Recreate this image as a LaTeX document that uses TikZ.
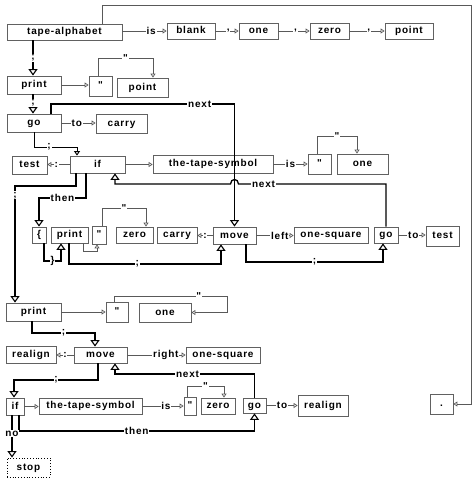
\documentclass[tikz,border=0pt]{standalone}
\usepackage{fontspec}
\newfontfamily\dfont{Liberation Sans}[LetterSpace=8]
\usetikzlibrary{arrows.meta}
\definecolor{bx}{gray}{0.38}
\definecolor{rl}{gray}{0.35}
\newcommand\mybox[7][]{\node[box,#1,minimum width=#5pt,minimum height=#6pt] (#2) at (#3,#4) {#7};}
\tikzset{
  dfnt/.style={font=\dfont\bfseries\fontsize{10}{11}\selectfont},
  box/.style={draw=bx, line width=0.8pt, inner sep=0pt, dfnt, text height=7pt, text depth=2pt},
  lab/.style={fill=white, inner sep=0.8pt, dfnt},
  rel/.style={draw=rl, line width=0.7pt, -{Triangle[open, length=4pt, width=5pt]}},
  flow/.style={draw=black, line width=1.3pt, -{Triangle[open, length=6.5pt, width=9pt, line width=1.1pt]}},
  seqln/.style={draw=black, line width=0.9pt, -{Triangle[open, length=4.5pt, width=6pt]}}
}
\begin{document}
\begin{tikzpicture}[x=1pt,y=-1pt]
\useasboundingbox (0,0) rectangle (474,479);
% row 1
\mybox{ta}{64.5}{32}{115}{16}{tape-alphabet}
\mybox{blank}{191}{31}{48}{16}{blank}
\mybox{one1}{258.5}{31}{39}{16}{one}
\mybox{zero1}{329.5}{31}{39}{16}{zero}
\mybox{point1}{409}{31}{48}{16}{point}
% row 2
\mybox{print1}{34}{85}{54}{18}{print}
\mybox{q1}{100.5}{86}{23}{20}{"}
\mybox{point2}{142.5}{87.5}{51}{19}{point}
% row 3
\mybox{go1}{34}{123}{54}{18}{go}
\mybox{carry1}{121.5}{123.5}{51}{19}{carry}
% row 4
\mybox{test1}{29.5}{165}{35}{18}{test}
\mybox{if1}{97.5}{164.5}{55}{17}{if}
\mybox{tts1}{213}{164}{120}{18}{the-tape-symbol}
\mybox{q2}{319.5}{164}{23}{20}{"}
\mybox{one2}{362.5}{164}{51}{20}{one}
% row 5
\mybox{brace}{39}{235}{14}{16}{\{}
\mybox{print2}{69.5}{235}{37}{16}{print}
\mybox{q3}{99}{235}{14}{18}{"}
\mybox{zero2}{134.5}{235}{37}{16}{zero}
\mybox{carry2}{177}{235}{40}{16}{carry}
\mybox{move1}{234.5}{235.5}{43}{17}{move}
\mybox{os1}{331}{235}{74}{16}{one-square}
\mybox{go2}{386}{235}{24}{16}{go}
\mybox{test2}{442.5}{236}{33}{20}{test}
% row 6
\mybox{print3}{33.5}{312}{55}{18}{print}
\mybox{q4}{117}{312}{22}{20}{"}
\mybox{one3}{165}{312.5}{52}{19}{one}
% row 7
\mybox{realign1}{31}{354.5}{50}{17}{realign}
\mybox{move2}{100.5}{355}{53}{16}{move}
\mybox{os2}{223}{355}{74}{16}{one-square}
% row 8
\mybox{if2}{15}{406.5}{18}{17}{if}
\mybox{tts2}{90.5}{406}{103}{16}{the-tape-symbol}
\mybox{q5}{190}{406}{12}{18}{"}
\mybox{zero3}{218}{406}{34}{16}{zero}
\mybox{go3}{254.5}{405.5}{23}{15}{go}
\mybox{realign2}{323}{405.5}{50}{21}{realign}
\mybox{dot}{441.5}{404}{23}{20}{.}
\mybox[draw=black,dotted,line width=0.9pt]{stop}{28.5}{467.5}{43}{19}{stop}

% ---------- connectors
% row 1
\draw[rel] (ta.east |- blank.west) -- node[lab,pos=0.65]{is} (blank.west);
\draw[rel] (blank.east) -- node[lab,pos=0.55]{,} (one1.west);
\draw[rel] (one1.east) -- node[lab,pos=0.55]{,} (zero1.west);
\draw[rel] (zero1.east) -- node[lab,pos=0.55]{,} (point1.west);
\draw[rel] (ta.north -| 102,0) -- (102,5) -- (471,5) -- (471,404) -- (dot.east);
% row 2
\draw[flow] (ta.south -| 33,0) -- node[lab,pos=0.5]{;} (print1.north -| 33,0);
\draw[rel] (print1.east) -- (q1.west |- print1.east);
\draw[rel] (q1.north -| 98,0) -- (98,58) -- node[lab]{"} (153,58) -- (point2.north -| 153,0);
% row 3
\draw[flow] (print1.south -| 33,0) -- node[lab,pos=0.45]{;} (go1.north -| 33,0);
\draw[rel] (go1.east) -- node[lab,pos=0.45]{to} (carry1.west |- go1.east);
\draw[flow] (go1.north -| 51,0) -- (51,104) -- node[lab,pos=0.81]{next} (234.5,104) -- (move1.north);
% row 4
\draw[seqln] (go1.south -| 34,0) -- (34,147) -- node[lab,pos=0.35]{;} (77,147) -- (if1.north -| 77,0);
\draw[rel] (if1.west) -- node[lab,pos=0.6]{:} (test1.east |- if1.west);
\draw[rel] (if1.east) -- (tts1.west |- if1.east);
\draw[rel] (tts1.east) -- node[lab,pos=0.5]{is} (q2.west |- tts1.east);
\draw[rel] (q2.north -| 317,0) -- (317,136) -- node[lab]{"} (357,136) -- (one2.north -| 357,0);
\draw[flow] (go2.north) -- (386,184) -- node[lab,pos=0.83]{next} (238.5,184)
   .. controls (238.5,178) and (230.5,178) .. (230.5,184) -- (115,184) -- (if1.south -| 115,0);
\draw[flow] (if1.south -| 86,0) -- (86,198) -- node[lab]{then} (39,198) -- (brace.north);
\draw[flow] (if1.south -| 76,0) -- (76,186) -- (15,186) -- node[lab,pos=0.08]{;} (print3.north -| 15,0);
% row 5
\draw[rel] (q3.north -| 102,0) -- (102,208) -- node[lab]{"} (146,208) -- (zero2.north -| 146,0);
\draw[rel] (print2.south -| 83,0) -- (83,251) -- (97,251) -- (q3.south -| 97,0);
\draw[flow] (brace.south -| 44,0) -- (44,261) -- node[lab]{\}} (61,261) -- (print2.south -| 61,0);
\draw[flow] (print2.south -| 69,0) -- (69,264) -- node[lab,pos=0.45]{;} (221,264) -- (move1.south -| 221,0);
\draw[rel] (move1.west) -- node[lab]{:} (carry2.east |- move1.west);
\draw[rel] (move1.east) -- node[lab,pos=0.63]{left} (os1.west |- move1.east);
\draw[rel] (go2.east) -- node[lab,pos=0.55]{to} (test2.west |- go2.east);
\draw[flow] (move1.south -| 246,0) -- (246,262) -- node[lab]{;} (383,262) -- (go2.south -| 383,0);
% row 6
\draw[rel] (print3.east) -- (q4.west |- print3.east);
\draw[rel] (q4.north -| 114,0) -- (114,296) -- node[lab,pos=0.75]{"} (227,296) -- (227,312.5) -- (one3.east);
\draw[flow] (print3.south -| 32,0) -- (32,333) -- node[lab]{;} (95,333) -- (move2.north -| 95,0);
% row 7
\draw[rel] (move2.west) -- node[lab]{:} (realign1.east |- move2.west);
\draw[rel] (move2.east) -- node[lab,pos=0.66]{right} (os2.west |- move2.east);
\draw[flow] (go3.north) -- (254.5,374) -- node[lab,pos=0.48]{next} (115,374) -- (move2.south -| 115,0);
\draw[flow] (move2.south -| 98,0) -- (98,380) -- node[lab]{;} (14,380) -- (if2.north -| 14,0);
% row 8
\draw[rel] (if2.east) -- (tts2.west |- if2.east);
\draw[rel] (tts2.east) -- node[lab,pos=0.57]{is} (q5.west |- tts2.east);
\draw[rel] (q5.north -| 187,0) -- (187,386) -- node[lab]{"} (224,386) -- (zero3.north -| 224,0);
\draw[rel] (go3.east) -- node[lab]{to} (realign2.west |- go3.east);
\draw[flow] (if2.south -| 19,0) -- (19,431) -- node[lab]{then} (254.5,431) -- (go3.south);
\draw[flow] (if2.south -| 12,0) -- node[lab,pos=0.44]{no} (stop.north -| 12,0);
\end{tikzpicture}
\end{document}
